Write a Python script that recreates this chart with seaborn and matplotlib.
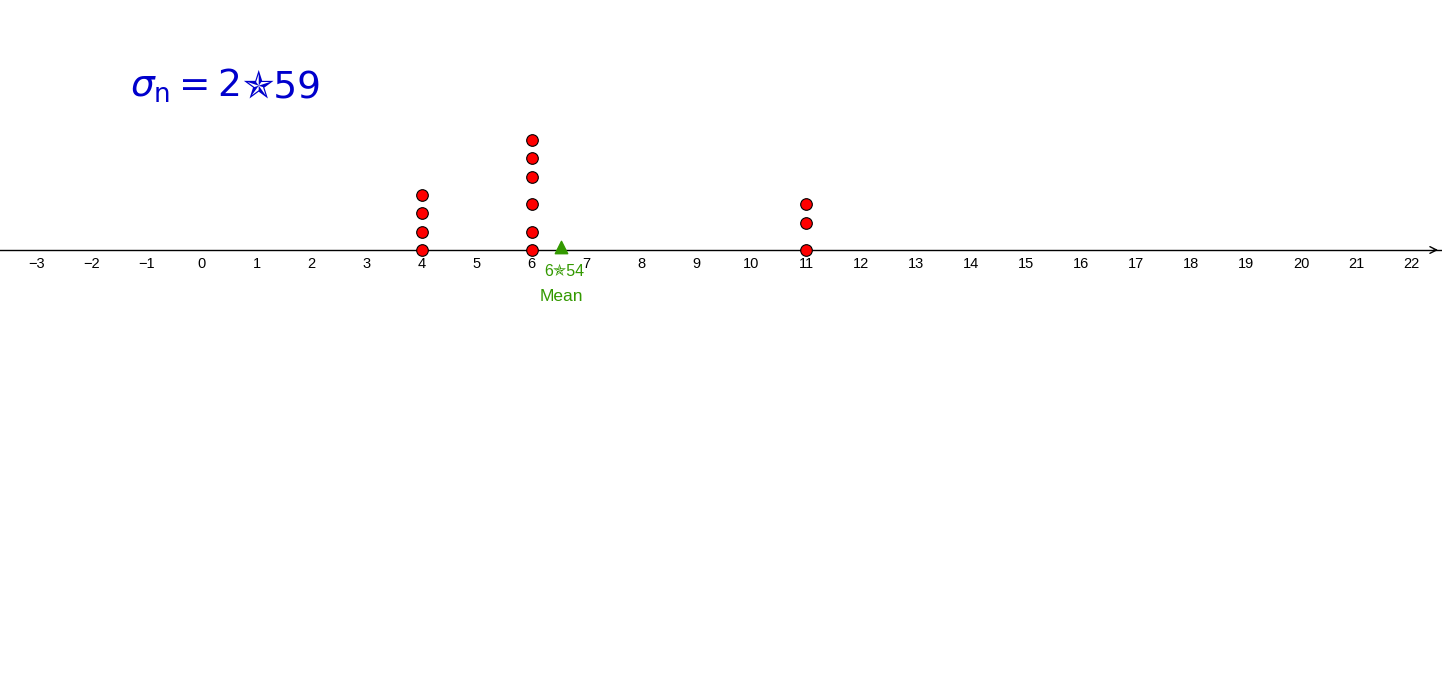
import matplotlib
matplotlib.use("Agg")
import matplotlib.pyplot as plt
import seaborn as sns
import pandas as pd

# data points (stacked dots on the number line)
dot_x = [4, 4, 4, 4, 6, 6, 6, 6, 6, 6, 11, 11, 11]
dot_y = [0, 0.333, 0.667, 1.0, 0, 0.333, 0.833, 1.333, 1.667, 2.0, 0, 0.5, 0.833]
tick_values = list(range(-3, 23))
mean_value = 6.54
mean_label = "6✯54"
sigma_label = r"$\sigma_{\mathrm{n}} = 2$"
sigma_rest = "✯59"

df = pd.DataFrame({"x": dot_x, "y": dot_y})

sns.set_style("white")
plt.rcParams["font.family"] = ["Liberation Sans", "DejaVu Sans"]
plt.rcParams["mathtext.fontset"] = "dejavusans"

fig = plt.figure(figsize=(14.42, 6.79), dpi=100)
ax = fig.add_axes([0, 0, 1, 1])

ppu = 54.96  # pixels per unit
xmin = -3 - 37 / ppu
xmax = 22 + (1442 - 1411) / ppu
ax.set_xlim(xmin, xmax)
ax.set_ylim(-(679 - 250) / ppu, 250 / ppu)

# number line
for s in ["top", "right", "left"]:
    ax.spines[s].set_visible(False)
ax.spines["bottom"].set_position(("data", 0))
ax.spines["bottom"].set_linewidth(1.0)
ax.spines["bottom"].set_color("black")
ax.set_xticks(tick_values)
ax.set_xticklabels([str(v).replace("-", "\u2212") for v in tick_values], fontsize=10.5)
ax.tick_params(axis="x", direction="inout", length=4, width=0.8, pad=3,
               colors="black", labelcolor="black")
ax.set_yticks([])
ax.annotate("", xy=(xmax - 0.02, 0), xytext=(xmax - 0.2, 0),
            arrowprops=dict(arrowstyle="->", lw=1.0, color="black",
                            mutation_scale=12))

sns.scatterplot(data=df, x="x", y="y", s=70, color="#ff0000",
                edgecolor="black", linewidth=0.8, ax=ax, zorder=5, clip_on=False)
ax.set_xlabel("")
ax.set_ylabel("")

# mean marker
green = "#339900"
ax.scatter([mean_value], [0.05], marker="^", s=80, color=green, zorder=6, clip_on=False)
ax.text(mean_value + 0.05, -0.4, mean_label, color=green, fontsize=11.5,
        ha="center", va="center")
ax.text(mean_value, -0.85, "Mean", color=green, fontsize=12.5,
        ha="center", va="center")

# sigma label
blue = "#0000cc"
t = ax.text(130 / 1442, 1 - 97 / 679, sigma_label, transform=fig.transFigure,
            color=blue, fontsize=27, ha="left", va="baseline")
fig.canvas.draw()
bb = t.get_window_extent()
ax.text(bb.x1 / 1442 + 0.002, 1 - 97 / 679, sigma_rest, transform=fig.transFigure,
        color=blue, fontsize=27, ha="left", va="baseline",
        family=["DejaVu Sans"])

fig.savefig("out.png", dpi=100)
